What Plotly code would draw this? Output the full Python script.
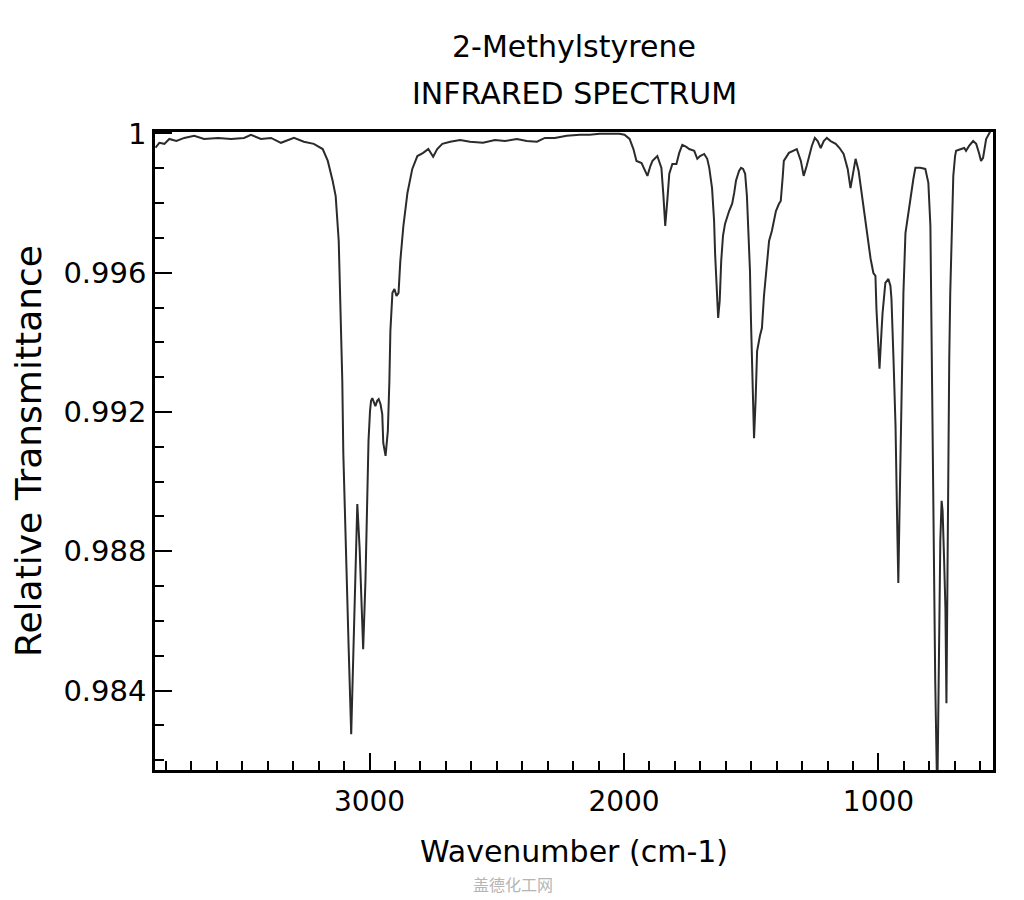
import plotly.graph_objects as go

# Wavenumber (cm-1) and relative transmittance
wavenumber = [
    3841, 3826, 3806, 3787, 3759, 3728, 3689, 3650, 3595, 3544, 3493, 3466, 3427, 3387, 3348,
    3297, 3258, 3219, 3184, 3164, 3145, 3133, 3121, 3114, 3107, 3103, 3094, 3082, 3072, 3063,
    3055, 3048, 3039, 3029, 3025, 3016, 3009, 3004, 2998, 2994, 2989, 2982, 2977, 2970, 2964,
    2957, 2950, 2946, 2937, 2928, 2924, 2922, 2918, 2910, 2902, 2894, 2886, 2879, 2867, 2851,
    2832, 2812, 2789, 2769, 2750, 2734, 2714, 2683, 2644, 2605, 2554, 2507, 2468, 2421, 2382,
    2342, 2311, 2272, 2225, 2174, 2135, 2096, 2057, 2018, 1998, 1978, 1963, 1951, 1931, 1920,
    1908, 1896, 1888, 1869, 1853, 1845, 1838, 1830, 1822, 1810, 1794, 1783, 1771, 1755, 1744,
    1724, 1712, 1701, 1685, 1673, 1665, 1654, 1646, 1642, 1634, 1630, 1624, 1618, 1611, 1603,
    1587, 1575, 1567, 1560, 1548, 1540, 1532, 1524, 1517, 1513, 1505, 1501, 1493, 1489, 1483,
    1477, 1466, 1458, 1450, 1438, 1430, 1419, 1403, 1391, 1384, 1376, 1372, 1352, 1337, 1321,
    1305, 1294, 1282, 1274, 1262, 1250, 1239, 1227, 1215, 1203, 1188, 1168, 1153, 1137, 1121,
    1110, 1098, 1090, 1078, 1066, 1055, 1047, 1031, 1020, 1012, 1008, 1000, 996, 988, 984,
    973, 961, 953, 949, 941, 933, 926, 922, 918, 914, 908, 902, 894, 883, 871,
    863, 855, 836, 816, 804, 796, 792, 789, 783, 777, 769, 763, 757, 752, 748,
    742, 737, 733, 729, 726, 722, 718, 710, 706, 699, 695, 675, 663, 656, 644,
    628, 616, 605, 597, 589, 577, 562, 552,
]
transmittance = [
    0.99959, 0.99973, 0.99970, 0.99984, 0.99978, 0.99987, 0.99993, 0.99984, 0.99987, 0.99984, 0.99987, 0.99996, 0.99984, 0.99987, 0.99973,
    0.99987, 0.99976, 0.99970, 0.99955, 0.99921, 0.99864, 0.99820, 0.99691, 0.99519, 0.99289, 0.99082, 0.98810, 0.98522, 0.98275, 0.98522,
    0.98810, 0.98936, 0.98810, 0.98620, 0.98519, 0.98715, 0.99002, 0.99117, 0.99203, 0.99232, 0.99240, 0.99226, 0.99217, 0.99232, 0.99237,
    0.99223, 0.99194, 0.99111, 0.99074, 0.99146, 0.99232, 0.99289, 0.99433, 0.99542, 0.99553, 0.99533, 0.99542, 0.99634, 0.99734, 0.99829,
    0.99898, 0.99935, 0.99944, 0.99955, 0.99933, 0.99955, 0.99970, 0.99976, 0.99981, 0.99976, 0.99973, 0.99981, 0.99978, 0.99984, 0.99978,
    0.99976, 0.99987, 0.99987, 0.99993, 0.99996, 0.99996, 0.99999, 0.99999, 0.99999, 0.99996, 0.99984, 0.99955, 0.99921, 0.99915, 0.99898,
    0.99878, 0.99907, 0.99921, 0.99935, 0.99901, 0.99820, 0.99734, 0.99806, 0.99884, 0.99912, 0.99912, 0.99944, 0.99967, 0.99961, 0.99955,
    0.99950, 0.99927, 0.99935, 0.99941, 0.99927, 0.99901, 0.99843, 0.99749, 0.99654, 0.99519, 0.99470, 0.99519, 0.99634, 0.99706, 0.99740,
    0.99777, 0.99798, 0.99829, 0.99864, 0.99892, 0.99901, 0.99898, 0.99884, 0.99820, 0.99749, 0.99605, 0.99461, 0.99260, 0.99125, 0.99232,
    0.99375, 0.99418, 0.99441, 0.99533, 0.99642, 0.99691, 0.99720, 0.99777, 0.99798, 0.99806, 0.99878, 0.99921, 0.99944, 0.99950, 0.99955,
    0.99921, 0.99878, 0.99907, 0.99930, 0.99964, 0.99987, 0.99978, 0.99958, 0.99978, 0.99987, 0.99978, 0.99970, 0.99958, 0.99941, 0.99898,
    0.99843, 0.99892, 0.99927, 0.99892, 0.99829, 0.99763, 0.99714, 0.99640, 0.99599, 0.99591, 0.99496, 0.99390, 0.99324, 0.99433, 0.99484,
    0.99571, 0.99582, 0.99562, 0.99525, 0.99352, 0.99160, 0.98858, 0.98709, 0.98887, 0.99074, 0.99318, 0.99542, 0.99714, 0.99772, 0.99829,
    0.99869, 0.99901, 0.99901, 0.99898, 0.99858, 0.99734, 0.99447, 0.99117, 0.98801, 0.98428, 0.98083, 0.98514, 0.98830, 0.98945, 0.98916,
    0.98772, 0.98637, 0.98364, 0.98735, 0.99117, 0.99347, 0.99542, 0.99777, 0.99878, 0.99935, 0.99950, 0.99955, 0.99958, 0.99950, 0.99964,
    0.99978, 0.99970, 0.99944, 0.99921, 0.99930, 0.99984, 1.00004, 1.00020,
]

x_tick_values = [3000, 2000, 1000]
x_tick_labels = ["3000", "2000", "1000"]
y_tick_values = [0.984, 0.988, 0.992, 0.996, 1.0]
y_tick_labels = ["0.984", "0.988", "0.992", "0.996", "1"]

title_line1 = "2-Methylstyrene"
title_line2 = "INFRARED SPECTRUM"
x_title = "Wavenumber (cm-1)"
y_title = "Relative Transmittance"
watermark = "盖德化工网"

FONT = "DejaVu Sans"

fig = go.Figure()
fig.add_trace(go.Scatter(
    x=wavenumber, y=transmittance, mode="lines",
    line=dict(color="#2b2b2b", width=2),
    hoverinfo="skip", showlegend=False,
))

fig.update_layout(
    width=1024, height=900,
    margin=dict(l=147, r=39, t=124, b=138),
    paper_bgcolor="white", plot_bgcolor="white",
    font=dict(family=FONT, color="black"),
    showlegend=False,
)

fig.update_xaxes(
    range=[3843, 550],
    showgrid=False, zeroline=False,
    showline=True, linecolor="black", linewidth=2.5, mirror=True,
    ticks="inside", ticklen=17, tickwidth=2, tickcolor="black",
    tickvals=x_tick_values, ticktext=x_tick_labels,
    tickfont=dict(size=28, family=FONT, color="black"),
    ticklabelstandoff=5,
    minor=dict(ticks="inside", ticklen=9, tickwidth=2, tickcolor="black",
               tick0=0, dtick=100, showgrid=False),
    title=dict(text=x_title, font=dict(size=30, family=FONT, color="black"), standoff=24),
)
fig.update_yaxes(
    range=[0.98172, 1.00004],
    showgrid=False, zeroline=False,
    showline=True, linecolor="black", linewidth=2.5, mirror=True,
    ticks="inside", ticklen=17, tickwidth=2, tickcolor="black",
    tickvals=y_tick_values, ticktext=y_tick_labels,
    tickfont=dict(size=29, family=FONT, color="black"),
    minor=dict(ticks="inside", ticklen=9, tickwidth=2, tickcolor="black",
               tick0=0, dtick=0.001, showgrid=False),
    title=dict(text=y_title, font=dict(size=36, family=FONT, color="black"), standoff=14),
)

fig.add_annotation(text=title_line1, xref="paper", yref="paper", x=0.5, y=(769 - 45) / 638,
                   xanchor="center", yanchor="middle", showarrow=False,
                   font=dict(size=30, family=FONT, color="black"))
fig.add_annotation(text=title_line2, xref="paper", yref="paper", x=0.5, y=(769 - 92) / 638,
                   xanchor="center", yanchor="middle", showarrow=False,
                   font=dict(size=30, family=FONT, color="black"))
fig.add_annotation(text=watermark, xref="paper", yref="paper", x=(512 - 153) / 840, y=(769 - 883) / 638,
                   xanchor="center", yanchor="middle", showarrow=False,
                   font=dict(size=16, family="Noto Sans CJK SC", color="#b5b5b5"))

fig.write_html("out.html")
